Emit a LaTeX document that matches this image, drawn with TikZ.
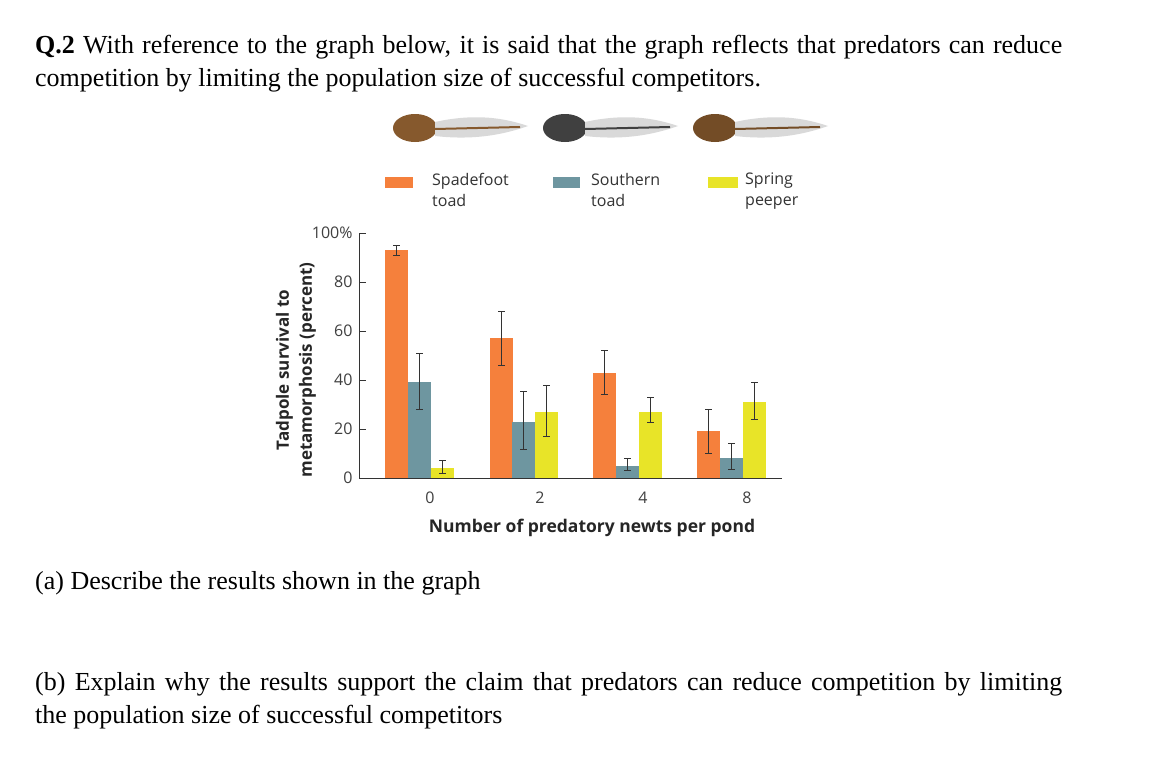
\documentclass[tikz,border=0pt]{standalone}
\usepackage{fontspec}
\setmainfont{Liberation Serif}
\setsansfont{Open Sans}
\definecolor{orng}{RGB}{245,128,60}
\definecolor{teal}{RGB}{110,150,160}
\definecolor{yel}{RGB}{232,228,40}
\begin{document}
\begin{tikzpicture}[x=1pt,y=-1pt,
  bar/.style={draw=none},
  eb/.style={line width=0.8pt,black!80},
  tick/.style={font=\sffamily\fontsize{16}{16}\selectfont,text=black!75},
  legtxt/.style={font=\sffamily\fontsize{16}{21}\selectfont,align=left,anchor=north west,inner sep=0pt,text=black!80},
  qtxt/.style={font=\fontsize{26}{33}\selectfont,anchor=base west,inner sep=0pt}]
\useasboundingbox (0,0) rectangle (1162,760);
\fill[white] (0,0) rectangle (1162,760);
% question
\node[qtxt,text width=1027pt,align=justify] (q) at (35,54) {\textbf{Q.2} With reference to the graph below, it is said that the graph reflects that predators can reduce\linebreak competition by limiting the population size of successful competitors.};
% tadpoles
\foreach \cx/\col in {460/brown!70!black, 610/black!75, 760/brown!60!black}{
  \fill[\col] (\cx-45,128) ellipse (22 and 14);
  \fill[black!15] (\cx-25,122) .. controls (\cx+20,112) and (\cx+50,120) .. (\cx+68,126) .. controls (\cx+40,136) and (\cx+10,140) .. (\cx-25,136) -- cycle;
  \draw[\col,line width=2pt] (\cx-25,129) -- (\cx+60,127);
}
% legend
\fill[orng] (385,177) rectangle (413,188);
\node[legtxt] (l1) at (432,173) {Spadefoot\\toad};
\fill[teal] (553,177) rectangle (580,188);
\node[legtxt] (l2) at (591,173) {Southern\\toad};
\fill[yel] (708,177) rectangle (738,188);
\node[legtxt] (l3) at (745,173) {Spring\\peeper};
% axes
\def\Y#1{478-2.45*#1}
\draw[black!80,line width=0.8pt] (359,233) -- (359,478) -- (782,478);
\foreach \v/\t in {0/0,20/20,40/40,60/60,80/80,100/100\%}{
  \draw[black!80,line width=0.8pt] (359,{\Y{\v}}) -- (366,{\Y{\v}});
  \node[tick,anchor=east] at (356,{\Y{\v}}) {\t};
}
% bars
\foreach \x/\v/\lo/\hi/\c in {
  385/93/91/95/orng, 408/39/28/51/teal, 431/4/2/7/yel,
  490/57/46/68/orng, 512/23/11.5/35.5/teal, 535/27/17/38/yel,
  593/43/34/52/orng, 616/5/3/8/teal, 639/27/22.5/33/yel,
  697/19/10/28/orng, 720/8/3.4/14/teal, 743/31/24/39/yel}{
  \fill[\c] (\x,478) rectangle (\x+23,{\Y{\v}});
  \draw[eb] (\x+11.5,{\Y{\lo}}) -- (\x+11.5,{\Y{\hi}});
  \draw[eb] (\x+8,{\Y{\lo}}) -- (\x+15,{\Y{\lo}});
  \draw[eb] (\x+8,{\Y{\hi}}) -- (\x+15,{\Y{\hi}});
}
\foreach \x/\t in {430/0,540/2,643/4,747/8}
  \node[tick] at (\x,498) {\t};
\node[font=\sffamily\bfseries\fontsize{17.5}{17.5}\selectfont,text=black!85] (xl) at (592,528) {Number of predatory newts per pond};
\node[font=\sffamily\bfseries\fontsize{17}{23}\selectfont,align=center,rotate=90,text=black!85] (yl) at (296,370) {Tadpole survival to\\metamorphosis (percent)};
% questions
\node[qtxt] (a) at (35,589) {(a) Describe the results shown in the graph};
\node[qtxt,text width=1027pt,align=justify] (b) at (35,690) {(b) Explain why the results support the claim that predators can reduce competition by limiting\linebreak the population size of successful competitors};
\end{tikzpicture}
\end{document}
